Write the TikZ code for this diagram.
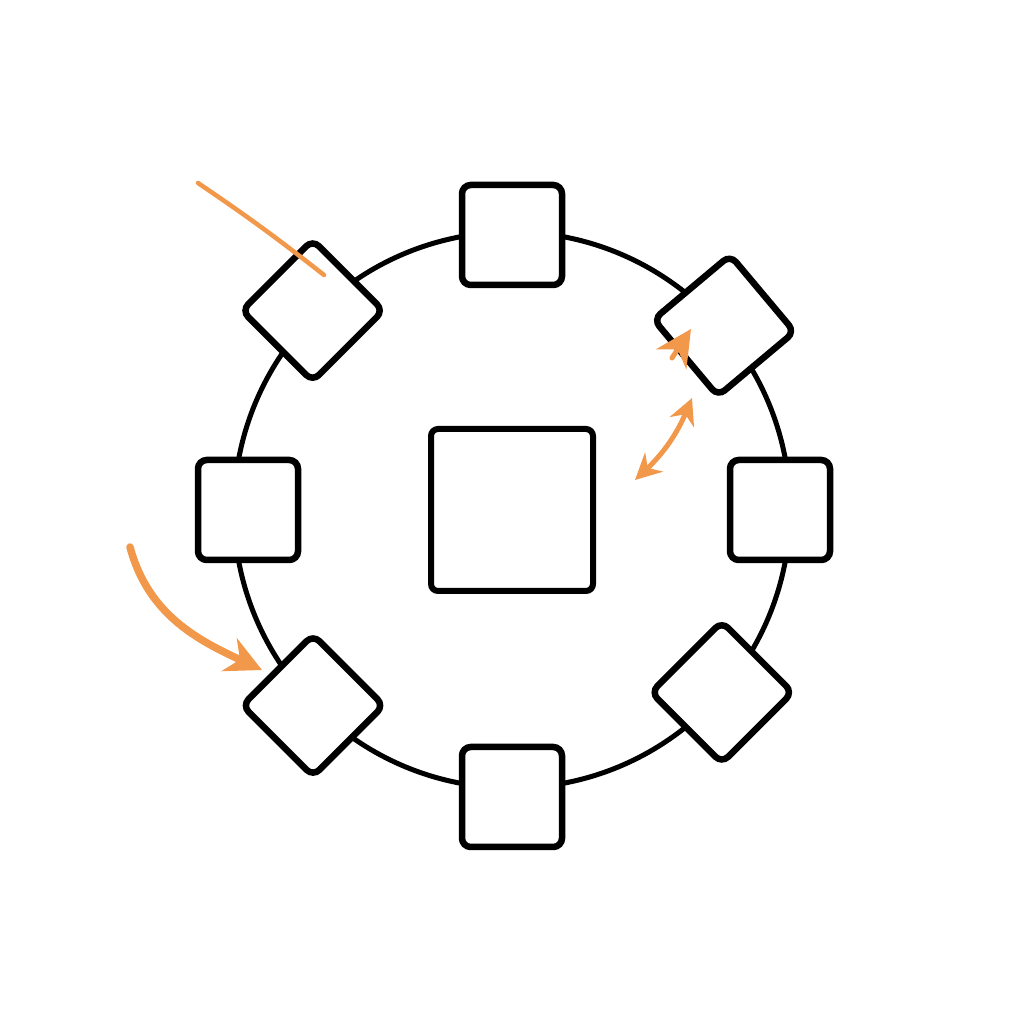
\documentclass[tikz,border=0pt]{standalone}
\usepackage{tikz}
\usetikzlibrary{arrows.meta,shapes}
\definecolor{accent}{RGB}{241,152,74}
\tikzstyle{hub}=[rectangle,draw=black,line width=.06cm,rounded corners=2pt,
              minimum size=1.62cm,inner sep=0pt]
\tikzstyle{port}=[rectangle,draw=black,line width=.065cm,rounded corners=2.5pt,
              fill=white,minimum size=1cm,inner sep=0pt]
\tikzstyle{ring}=[draw=black,line width=.05cm]
\tikzstyle{arrow}=[-{Stealth[length=.36cm,width=.36cm]},line width=.075cm,draw=accent]
\tikzstyle{link}=[{Stealth[length=.26cm,width=.26cm]}-{Stealth[length=.26cm,width=.26cm]},
              line width=.05cm,draw=accent]

\begin{document}
\begin{tikzpicture}[line cap=round]
  \useasboundingbox[fill=white] (0,0) rectangle (10.24,10.24);

	\node[hub] (n0) at (5.12,5.14) {};
	\draw[ring] (n0.center) circle (2.78cm);

	\node[port] (n1) at ([shift={(90:2.75)}]n0.center) {};
	\node[port,rotate=40] (n2) at ([shift={(41:2.81)}]n0.center) {};
	\node[port] (n3) at ([shift={(0:2.68)}]n0.center) {};
	\node[port,rotate=45] (n4) at ([shift={(-41:2.78)}]n0.center) {};
	\node[port] (n5) at ([shift={(-90:2.87)}]n0.center) {};
	\node[port,rotate=45] (n6) at ([shift={(-135.5:2.79)}]n0.center) {};
	\node[port] (n7) at ([shift={(180:2.64)}]n0.center) {};
	\node[port,rotate=45] (n8) at ([shift={(135:2.82)}]n0.center) {};

	\coordinate (inA) at (1.98,8.41);
	\coordinate (inA') at (3.24,7.49);
	\coordinate (inB) at (1.30,4.77);
	\coordinate (inB') at (2.62,3.54);
	\coordinate (swA) at (6.35,5.44);
	\coordinate (swB) at (6.92,6.26);
	\coordinate (up) at (6.72,6.66);
	\coordinate (up') at (6.91,6.95);

  \draw[accent,line width=.045cm] (inA) to[bend left=2] (inA');
  \draw[arrow] (inB) to[out=-75,in=155] (inB');
  \draw[link] (swA) to[bend right=12] (swB);
  \draw[-{Stealth[length=.36cm,width=.36cm]},line width=.05cm,draw=accent] (up) -- (up');

\end{tikzpicture}
\end{document}
